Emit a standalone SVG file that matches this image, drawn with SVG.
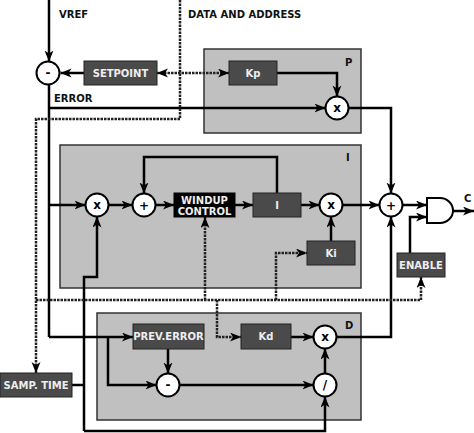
<svg xmlns="http://www.w3.org/2000/svg" width="474" height="433" viewBox="0 0 474 433">
<style>
.blk{fill:#c0c0c0;stroke:#333;stroke-width:1.5}
.box{fill:#4a4a4a;stroke:#222;stroke-width:1}
.bbox{fill:#000;stroke:#000;stroke-width:1}
.op{fill:#fff;stroke:#000;stroke-width:2}
.w{fill:none;stroke:#000;stroke-width:2.5;stroke-linejoin:miter}
.d{fill:none;stroke:#222;stroke-width:2.5;stroke-dasharray:2.5 1}
.a{marker-end:url(#ah)}
.t{font-family:"DejaVu Sans",Verdana,sans-serif;font-weight:bold;font-size:10px;fill:#111}
.bt{font-family:"DejaVu Sans",Verdana,sans-serif;font-weight:bold;font-size:10px;fill:#eee;text-anchor:middle}
.ot{font-family:"DejaVu Sans",Verdana,sans-serif;font-weight:bold;font-size:12px;fill:#000;text-anchor:middle}
</style>
<defs>
<marker id="ah" markerUnits="userSpaceOnUse" markerWidth="12" markerHeight="10" refX="11" refY="4.5" orient="auto-start-reverse" viewBox="0 0 12 10">
<path d="M0,0 L11,4.5 L0,9 L3,4.5 z" fill="#000"/>
</marker>
</defs>

<g id="block-P"><rect class="blk" x="204" y="49" width="157" height="84"/><text class="t" x="345" y="66">P</text></g>
<g id="block-I"><rect class="blk" x="60" y="145" width="301" height="143"/><text class="t" x="346" y="161">I</text></g>
<g id="block-D"><rect class="blk" x="97" y="313" width="264" height="107"/><text class="t" x="345" y="329">D</text></g>

<g id="connectors">
<path class="w a" d="M49,0 V61.5"/>
<path class="w a" d="M84,73 H60.5"/>
<path class="w" d="M49,84.5 V337"/>
<path class="w a" d="M49,108 H325.5"/>
<path class="w a" d="M49,205 H85.5"/>
<path class="w a" d="M49,337 H133"/>
<path class="w a" d="M277,73 H337 V96.5"/>
<path class="w a" d="M348.5,108 H391 V193.5"/>
<path class="w a" d="M108.5,205 H132.5"/>
<path class="w a" d="M155.5,205 H174"/>
<path class="w a" d="M235,205 H253"/>
<path class="w a" d="M301,205 H319.5"/>
<path class="w a" d="M277,193 V157 H144 V193.5"/>
<path class="w a" d="M331,241 V216.5"/>
<path class="w a" d="M342.5,205 H379.5"/>
<path class="w a" d="M402.5,205 H427"/>
<path class="w a" d="M410,253 V217 H427"/>
<path class="w a" d="M453,211 H474"/>
<path class="w a" d="M336.5,337 H391 V216.5"/>
<path class="w" d="M72,385 H84"/>
<path class="w a" d="M84,431 V277 H97 V216.5"/>
<path class="w a" d="M84,431 H325 V396.5"/>
<path class="w a" d="M168,349 V373.5"/>
<path class="w a" d="M108,337 V385 H156.5"/>
<path class="w a" d="M179.5,385 H313.5"/>
<path class="w a" d="M325,373.5 V348.5"/>
<path class="w a" d="M291,337 H313.5"/>
<path class="d a" d="M180,0 V119 H36 V373"/>
<path class="d a" d="M157,73 H229" marker-start="url(#ah)"/>
<path class="d a" d="M36,300 H421 V277"/>
<path class="d a" d="M205,300 V217"/>
<path class="d a" d="M276,300 V253 H307"/>
<path class="d a" d="M217,300 V337 H241"/>
</g>

<g id="labels">
<text class="t" x="59" y="18">VREF</text>
<text class="t" x="188" y="18">DATA AND ADDRESS</text>
<text class="t" x="54" y="102">ERROR</text>
<text class="t" x="464" y="202">C</text>
</g>

<g id="sub-vref"><circle class="op" cx="48" cy="73" r="11.5"/><text class="ot" x="48" y="77">-</text></g>
<g id="setpoint"><rect class="box" x="84" y="61" width="73" height="24"/><text class="bt" x="120.5" y="77">SETPOINT</text></g>
<g id="kp"><rect class="box" x="229" y="61" width="48" height="24"/><text class="bt" x="253" y="77">Kp</text></g>
<g id="mul-p"><circle class="op" cx="337" cy="108" r="11.5"/><text class="ot" x="337" y="112">x</text></g>
<g id="mul-i1"><circle class="op" cx="97" cy="205" r="11.5"/><text class="ot" x="97" y="209">x</text></g>
<g id="add-i"><circle class="op" cx="144" cy="205" r="11.5"/><text class="ot" x="144" y="209.5">+</text></g>
<g id="windup"><rect class="bbox" x="174" y="193" width="61" height="24"/><text class="bt" x="204.5" y="203.5">WINDUP</text><text class="bt" x="204.5" y="214.5">CONTROL</text></g>
<g id="integ"><rect class="box" x="253" y="193" width="48" height="24"/><text class="bt" x="277" y="209">I</text></g>
<g id="mul-i2"><circle class="op" cx="331" cy="205" r="11.5"/><text class="ot" x="331" y="209">x</text></g>
<g id="ki"><rect class="box" x="307" y="241" width="48" height="24"/><text class="bt" x="331" y="257">Ki</text></g>
<g id="sum"><circle class="op" cx="391" cy="205" r="11.5"/><text class="ot" x="391" y="209.5">+</text></g>
<g id="and-gate"><path d="M427,198 H440 A13,12.5 0 0 1 440,223 H427 Z" fill="#fff" stroke="#000" stroke-width="2"/></g>
<g id="enable"><rect class="box" x="397" y="253" width="48" height="24"/><text class="bt" x="421" y="269">ENABLE</text></g>
<g id="prev-error"><rect class="box" x="133" y="324" width="71" height="25"/><text class="bt" x="168.5" y="340">PREV.ERROR</text></g>
<g id="sub-d"><circle class="op" cx="168" cy="385" r="11.5"/><text class="ot" x="168" y="389">-</text></g>
<g id="kd"><rect class="box" x="241" y="324" width="50" height="25"/><text class="bt" x="266" y="340">Kd</text></g>
<g id="mul-d"><circle class="op" cx="325" cy="337" r="11.5"/><text class="ot" x="325" y="341">x</text></g>
<g id="div-d"><circle class="op" cx="325" cy="385" r="11.5"/><text class="ot" x="325" y="389">/</text></g>
<g id="samp-time"><rect class="box" x="0" y="373" width="72" height="24"/><text class="bt" x="36" y="389">SAMP. TIME</text></g>
</svg>
